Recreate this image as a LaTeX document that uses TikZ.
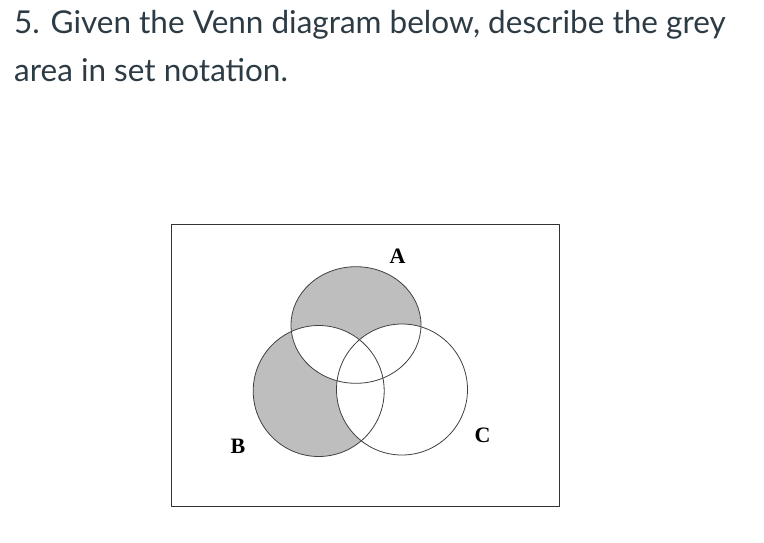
\documentclass[tikz,border=0pt]{standalone}
\usepackage{fontspec}
\setmainfont{Lato}
\newfontfamily\labelfont{Liberation Serif}
\definecolor{textgrey}{HTML}{2D3B45}
\definecolor{venngrey}{HTML}{BEBEBE}
\begin{document}
\begin{tikzpicture}[
				x=1pt,
				y=-1pt,
				line join=round,
				setline/.style={draw=black!75, line width=0.8pt},
				setlabel/.style={font=\labelfont\bfseries\fontsize{22}{22}\selectfont, inner sep=0pt},
				question/.style={anchor=base west, inner sep=0pt, text=textgrey, font=\fontsize{31.5}{32}\selectfont}
			]

			\useasboundingbox (0,0) rectangle (764,542);

			% Question text
			\node[question] (line1) at (14,33.3) {5. Given the Venn diagram below, describe the grey};
			\node[question] (line2) at (14,81) {area in set notation.};

			% Universe
			\draw[black!80, line width=0.8pt] (171.5,224.5) rectangle (559,506);

			% Centres of the sets
			\coordinate (cA) at (356,325);
			\coordinate (cB) at (318.7,391);
			\coordinate (cC) at (402,389.5);

			% Grey part of A only
			\begin{scope}
				\clip (cA) ellipse (65pt and 58.3pt);
				\fill[venngrey] (cA) ellipse (65pt and 58.3pt);
				\fill[white] (cB) circle (65.5pt);
				\fill[white] (cC) circle (65.5pt);
			\end{scope}

			% Grey part of B only
			\begin{scope}
				\clip (cB) circle (65.5pt);
				\fill[venngrey] (cB) circle (65.5pt);
				\fill[white] (cA) ellipse (65pt and 58.3pt);
				\fill[white] (cC) circle (65.5pt);
			\end{scope}

			% Outlines
			\draw[setline] (cA) ellipse (65pt and 58.3pt);
			\draw[setline] (cB) circle (65.5pt);
			\draw[setline] (cC) circle (65.5pt);

			% Labels
			\node[setlabel] (labA) at (397.5,256) {A};
			\node[setlabel] (labB) at (238,446) {B};
			\node[setlabel] (labC) at (482.5,435) {C};

		\end{tikzpicture}
\end{document}
